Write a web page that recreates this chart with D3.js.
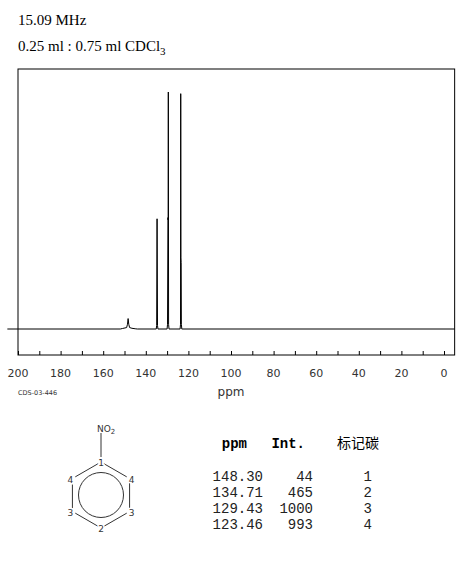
<!DOCTYPE html><html><head><meta charset="utf-8"><script src="https://cdn.jsdelivr.net/npm/d3@7"></script>
<style>body{margin:0;background:#fff}</style></head><body><svg id="c" width="474" height="561"></svg>
<script>
const ppm=[148.30,134.71,129.43,123.46];
const intensity=[44,465,1000,993];
const carbon=[1,2,3,4];
// spectrum trace points [ppm, relative intensity]
const trace=[[205,0],[152,0],[151,2],[149,6],[148.6,20],[148.3,44],[148.0,20],[147.6,6],[146.5,3],[145,1],[144,0],
[135.1,0],[134.9,15],[134.71,465],[134.5,15],[134.3,0],
[130,0],[129.8,20],[129.6,470],[129.5,460],[129.43,1000],[129.3,20],[129.1,0],
[123.9,0],[123.7,20],[123.6,993],[123.5,300],[123.4,280],[123.3,20],[123.1,0],[-5,0]];
const xTicks=d3.range(0,201,10);
const xLabels=d3.range(0,201,20);
const svg=d3.select("#c");
const x=d3.scaleLinear().domain([200,0]).range([18,444]);
const y=d3.scaleLinear().domain([0,1000]).range([329,92]);
const L=x(200),R=x(-5),T=69,B=355;
svg.append("rect").attr("x",L).attr("y",T).attr("width",R-L).attr("height",B-T).attr("fill","none").attr("stroke","#000");
svg.append("path").datum(trace).attr("fill","none").attr("stroke","#000").attr("stroke-width",1)
 .attr("d",d3.line().x(d=>x(d[0])).y(d=>y(d[1])));
const ax=svg.append("g").attr("transform",`translate(0,${B})`);
ax.call(d3.axisTop(x).tickValues(xTicks).tickSize(4).tickFormat("")).call(g=>g.select(".domain").remove());
svg.append("g").selectAll("text").data(xLabels).join("text").attr("x",d=>x(d)).attr("y",377).attr("text-anchor","middle")
 .attr("font-family","DejaVu Sans").attr("font-size",11).attr("fill","#333").text(d=>d);
svg.append("text").attr("x",x(100)).attr("y",396).attr("text-anchor","middle").attr("font-family","DejaVu Sans").attr("font-size",12).attr("fill","#333").text("ppm");
svg.append("text").attr("x",18).attr("y",395).attr("font-family","DejaVu Sans").attr("font-size",6.5).attr("fill","#333").text("CDS-03-446");
const serif="Liberation Serif";
svg.append("text").attr("x",18).attr("y",25).attr("font-family",serif).attr("font-size",15).text("15.09 MHz");
const t2=svg.append("text").attr("x",18).attr("y",51).attr("font-family",serif).attr("font-size",15).text("0.25 ml : 0.75 ml CDCl");
t2.append("tspan").attr("dy",4).attr("font-size",11).text("3");
// structure
const cx=101,cy=495,r=33;
const verts=d3.range(6).map(i=>{const a=-Math.PI/2+i*Math.PI/3;return [cx+r*Math.cos(a),cy+r*Math.sin(a)];});
const g=svg.append("g").attr("stroke","#333").attr("fill","none");
verts.forEach((v,i)=>{const w=verts[(i+1)%6];const sh=0.22;
 const a=[v[0]+(w[0]-v[0])*(i==0||i==5?0:0),v[1]];
 g.append("line").attr("x1",v[0]+(w[0]-v[0])*0.1).attr("y1",v[1]+(w[1]-v[1])*0.1).attr("x2",v[0]+(w[0]-v[0])*0.9).attr("y2",v[1]+(w[1]-v[1])*0.9);});
g.append("circle").attr("cx",cx).attr("cy",cy).attr("r",22.5);
g.append("line").attr("x1",cx).attr("y1",433).attr("x2",cx).attr("y2",457);
const lab=[[1,cx,cy-r+4],[4,verts[1][0]+2,verts[1][1]+4],[3,verts[2][0]+2,verts[2][1]+4],[2,cx,cy+r+4],[3,verts[4][0]-2,verts[4][1]+4],[4,verts[5][0]-2,verts[5][1]+4]];
svg.append("g").selectAll("text").data(lab).join("text").attr("x",d=>d[1]).attr("y",d=>d[2]).attr("text-anchor","middle")
 .attr("font-family","DejaVu Sans").attr("font-size",9).attr("fill","#333").attr("stroke","#fff").attr("stroke-width",3).attr("paint-order","stroke").text(d=>d[0]);
const no=svg.append("text").attr("x",97).attr("y",432).attr("font-family","DejaVu Sans").attr("font-size",9).attr("fill","#333").text("NO");
no.append("tspan").attr("dy",2).attr("font-size",7).text("2");
// table
const mono="Liberation Mono";
const hdr=[["ppm",247],["Int.",305],["标记碳",379]];
svg.append("g").selectAll("text").data(hdr).join("text").attr("x",d=>d[1]).attr("y",448).attr("text-anchor","end")
 .attr("font-family",(d,i)=>i<2?mono:"Noto Sans CJK SC").attr("font-weight",(d,i)=>i<2?"bold":"normal").attr("font-size",14).text(d=>d[0]);
ppm.forEach((p,i)=>{const yy=481+i*16;
 [[p.toFixed(2),263],[intensity[i],313],[carbon[i],372]].forEach(c=>svg.append("text").attr("x",c[1]).attr("y",yy).attr("text-anchor","end").attr("font-family",mono).attr("font-size",14).attr("fill","#222").text(c[0]));});
</script></body></html>
